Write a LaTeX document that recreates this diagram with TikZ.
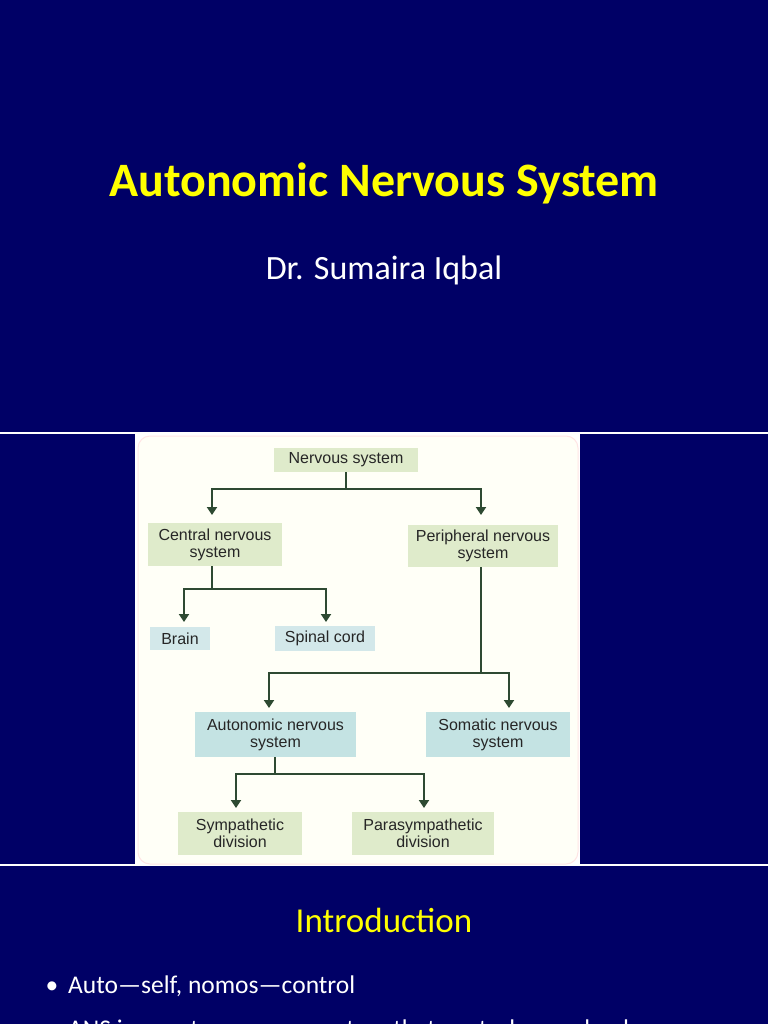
\documentclass[tikz,border=0pt]{standalone}
\usepackage{fontspec}
\setmainfont{Carlito}
\newfontfamily\diag{Liberation Sans}
\usetikzlibrary{arrows.meta}
\definecolor{navy}{HTML}{000066}
\definecolor{ttl}{HTML}{FFFF00}
\definecolor{gbox}{HTML}{DFEBCB}
\definecolor{bbox}{HTML}{D3E8EA}
\definecolor{tbox}{HTML}{C4E3E3}
\definecolor{arr}{HTML}{2E4A32}
\tikzset{
  box/.style={draw=none,font=\diag\fontsize{16}{17}\selectfont,text=black!85,align=center,inner sep=0pt},
  gb/.style={box,fill=gbox},
  bb/.style={box,fill=bbox},
  tb/.style={box,fill=tbox},
  conn/.style={draw=arr,line width=2.5pt},
  ar/.style={conn,-{Triangle[length=8pt,width=10pt]}}
}
\begin{document}
\begin{tikzpicture}[x=1pt,y=-1pt]
\useasboundingbox (0,0) rectangle (768,1024);
\fill[navy] (0,0) rectangle (768,1024);
\fill[white] (0,432) rectangle (768,434);
\fill[white] (0,864) rectangle (768,866);
\fill[white] (135,433) rectangle (580,866);
\draw[fill=white!97!yellow,draw=red!10,line width=1pt,rounded corners=12] (138,436) rectangle (578,864);
% slide text
\node[text=ttl,font=\bfseries\fontsize{48}{54}\selectfont] (title) at (384,183) {Autonomic Nervous System};
\node[text=white,font=\fontsize{34}{40}\selectfont] (auth) at (384,270) {Dr. Sumaira Iqbal};
\node[text=ttl,font=\fontsize{35}{40}\selectfont] (intro) at (384,920) {Introduction};
\node[text=white,font=\fontsize{25.5}{30}\selectfont,anchor=west] (b1) at (42,986) {•\hspace{10pt}Auto—self, nomos—control};
\begin{scope}
\clip (0,866) rectangle (768,1024);
\node[text=white,font=\fontsize{25.5}{30}\selectfont,anchor=west] (b2) at (42,1031) {•\hspace{10pt}ANS is a motor nervous system that controls our glands};
\end{scope}
% boxes
\path[gb] (274,448) rectangle (418,472) node[midway] (ns) {Nervous system};
\path[gb] (148,523) rectangle (282,566) node[midway] (cns) {Central nervous\\system};
\path[gb] (408,525) rectangle (558,567) node[midway] (pns) {Peripheral nervous\\system};
\path[bb] (150,627) rectangle (210,650) node[midway] (br) {Brain};
\path[bb] (275,626) rectangle (375,651) node[midway] (sc) {Spinal cord};
\path[tb] (195,712) rectangle (356,757) node[midway] (ans) {Autonomic nervous\\system};
\path[tb] (426,712) rectangle (570,757) node[midway] (sns) {Somatic nervous\\system};
\path[gb] (178,812) rectangle (302,855) node[midway] (sym) {Sympathetic\\division};
\path[gb] (352,812) rectangle (494,855) node[midway] (par) {Parasympathetic\\division};
% junctions
\coordinate (j1) at (346,489);
\coordinate (j2) at (212,589);
\coordinate (j3) at (481,673);
\coordinate (j4) at (275,774);
\draw[conn] (346,472) -- (j1);
\draw[ar] (j1) -| (212,515);
\draw[ar] (j1) -| (481,515);
\draw[conn] (212,566) -- (j2);
\draw[ar] (j2) -| (184,622);
\draw[ar] (j2) -| (326,622);
\draw[conn] (481,567) -- (j3);
\draw[ar] (j3) -| (269,708);
\draw[ar] (j3) -| (509,708);
\draw[conn] (275,757) -- (j4);
\draw[ar] (j4) -| (236,808);
\draw[ar] (j4) -| (424,808);
\end{tikzpicture}
\end{document}
